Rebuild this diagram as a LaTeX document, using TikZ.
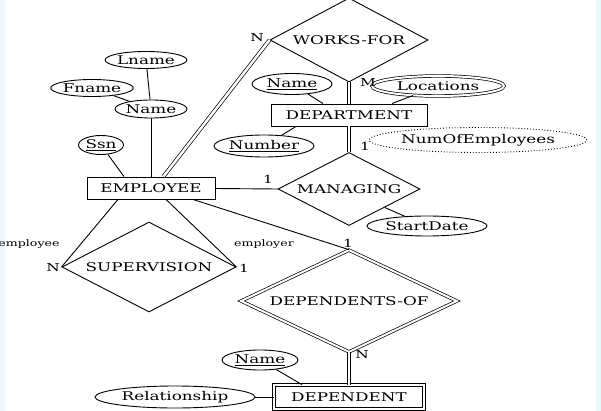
\documentclass[tikz,border=0pt]{standalone}
\usepackage{fontspec}
\setmainfont{DejaVu Serif}[FakeStretch=1.4]
\usetikzlibrary{shapes.geometric}
\newcommand{\zw}[1]{\makebox[0pt]{#1}}
\begin{document}
\begin{tikzpicture}[x=1pt,y=-1pt,line width=0.9pt,
  every node/.style={font=\fontsize{12}{14}\selectfont},
  attr/.style={draw,ellipse,inner sep=0pt},
  ent/.style={draw,rectangle,inner sep=0pt},
  rel/.style={draw,diamond,inner sep=0pt},
  lbl/.style={inner sep=0pt,font=\fontsize{11}{13}\selectfont},
  dbl/.style={double,double distance=2.5pt,line width=0.7pt}]
\fill[cyan!8] (0,0) rectangle (601,411);
\fill[white] (5,0) rectangle (596,411);
\useasboundingbox (0,0) rectangle (601,411);
% nodes
\node[rel,minimum width=158,minimum height=84] (wf) at (349,40) {\zw{WORKS-FOR}};
\node[ent,minimum width=156,minimum height=22] (dept) at (349,115) {DEPARTMENT};
\node[attr,minimum width=80,minimum height=21] (dname) at (292,84) {\underline{Name}};
\node[attr,double,double distance=2pt,line width=0.7pt,minimum width=132,minimum height=20] (loc) at (438,86) {Locations};
\node[attr,minimum width=100,minimum height=22] (num) at (264,146) {\underline{Number}};
\node[attr,dotted,minimum width=200,minimum height=25] (noe) at (478,140) {NumOfEmployees};
\node[rel,minimum width=142,minimum height=73] (man) at (349,189) {\zw{MANAGING}};
\node[ent,minimum width=128,minimum height=22] (emp) at (151,188) {EMPLOYEE};
\node[attr,minimum width=120,minimum height=20] (sd) at (427,226) {StartDate};
\node[attr,minimum width=76,minimum height=17] (lname) at (146,60) {Lname};
\node[attr,minimum width=74,minimum height=17] (fname) at (92,88) {Fname};
\node[attr,minimum width=72,minimum height=18] (ename) at (151,109) {Name};
\node[attr,minimum width=45,minimum height=19] (ssn) at (101,145) {\underline{Ssn}};
\node[rel,minimum width=174,minimum height=90] (sup) at (149,267) {\zw{SUPERVISION}};
\node[rel,double,double distance=2pt,line width=0.7pt,minimum width=216,minimum height=102] (dof) at (349,301) {\zw{DEPENDENTS-OF}};
\node[ent,double,double distance=2pt,line width=0.7pt,minimum width=150,minimum height=24] (dep) at (349,397) {DEPENDENT};
\node[attr,minimum width=76,minimum height=20] (depname) at (260,360) {\underline{Name}};
\node[attr,minimum width=160,minimum height=22] (rs) at (175,397) {Relationship};
% labels
\node[lbl] (lN1) at (257,38) {N};
\node[lbl] (lM) at (368,82) {M};
\node[lbl] (l1a) at (365,146) {1};
\node[lbl] (l1b) at (268,179) {1};
\node[lbl,font=\fontsize{9}{11}\selectfont] (lemp) at (29,244) {employee};
\node[lbl,font=\fontsize{9}{11}\selectfont] (lempr) at (264,244) {employer};
\node[lbl] (lN2) at (53,268) {N};
\node[lbl] (l1c) at (244,268) {1};
\node[lbl] (l1d) at (348,243) {1};
\node[lbl] (lN3) at (362,355) {N};
% connectors
\draw[dbl] (wf.south) -- (dept.north);
\draw[dbl] (dept.south) -- (man.north);
\draw[dbl] (emp.north east) ++(-52,0) coordinate (e1) -- (wf.west);
\draw (dname) -- (dept.north west -| 323,0);
\draw (loc) -- (dept.north east -| 392,0);
\draw (num) -- (dept.south west -| 296,0);
\draw (emp) -- (man.west);
\draw (sd) -- (man.south east);
\draw (lname) -- (ename);
\draw (fname) -- (ename);
\draw (ename) -- (emp);
\draw (ssn) -- (emp.north west -| 124,0);
\draw (emp.south west -| 118,0) -- (sup.west);
\draw (emp.south -| 166,0) -- (sup.east);
\draw (emp.south east -| 193,0) -- (dof.north);
\draw[dbl] (dof.south) -- (dep.north);
\draw (depname) -- (dep.north west -| 302,0);
\draw (rs) -- (dep.west);
\end{tikzpicture}
\end{document}
